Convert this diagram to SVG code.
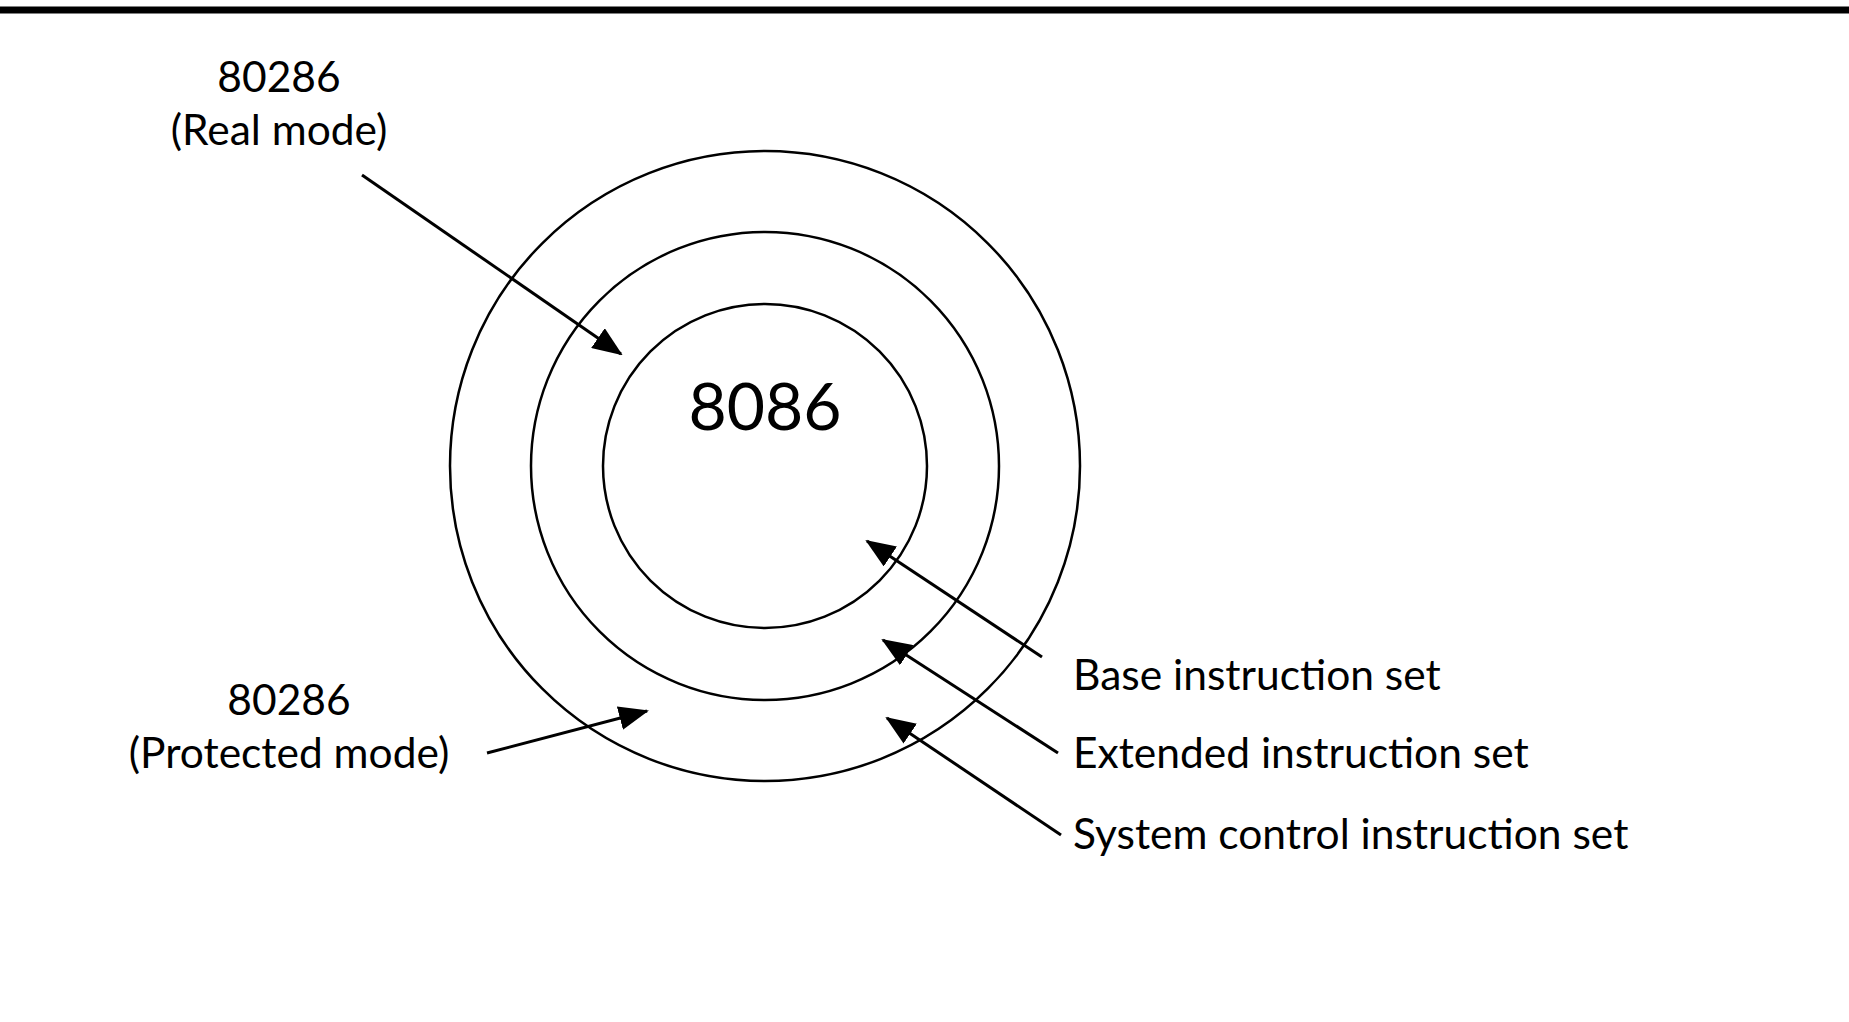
<svg xmlns="http://www.w3.org/2000/svg" width="1849" height="1022" viewBox="0 0 1849 1022">
<style>
.c{fill:none;stroke:#000;stroke-width:2.5}
.a{stroke:#000;stroke-width:3;marker-end:url(#ah)}
text{font-family:Lato,"Open Sans",sans-serif;font-size:42.5px;fill:#000}
.m{text-anchor:middle}
</style>
<defs><marker id="ah" markerUnits="userSpaceOnUse" markerWidth="30" markerHeight="24" refX="28" refY="12" orient="auto"><path d="M0,0 L30,12 L0,24 Z" fill="#000"/></marker></defs>
<rect width="1849" height="1022" fill="#fff"/>
<line x1="0" y1="10" x2="1849" y2="10" stroke="#000" stroke-width="7"/>
<g id="outer"><circle class="c" cx="765" cy="466" r="315"/></g>
<g id="middle"><circle class="c" cx="765" cy="466" r="234"/></g>
<g id="inner"><circle class="c" cx="765" cy="466" r="162"/><text class="m" x="765" y="430" style="font-size:66px">8086</text></g>
<g id="real"><text class="m" x="279" y="92">80286</text><text class="m" x="279" y="145">(Real mode)</text></g>
<g id="prot"><text class="m" x="289" y="715">80286</text><text class="m" x="289" y="768">(Protected mode)</text></g>
<g id="base"><text x="1073" y="690">Base instruction set</text></g>
<g id="ext"><text x="1073" y="768">Extended instruction set</text></g>
<g id="sys"><text x="1073" y="849">System control instruction set</text></g>
<g id="connectors">
<line class="a" x1="362" y1="175" x2="621" y2="354"/>
<line class="a" x1="487" y1="753" x2="647" y2="711"/>
<line class="a" x1="1042" y1="657" x2="867" y2="541"/>
<line class="a" x1="1058" y1="753" x2="883" y2="640"/>
<line class="a" x1="1061" y1="835" x2="887" y2="718"/>
</g>
</svg>
